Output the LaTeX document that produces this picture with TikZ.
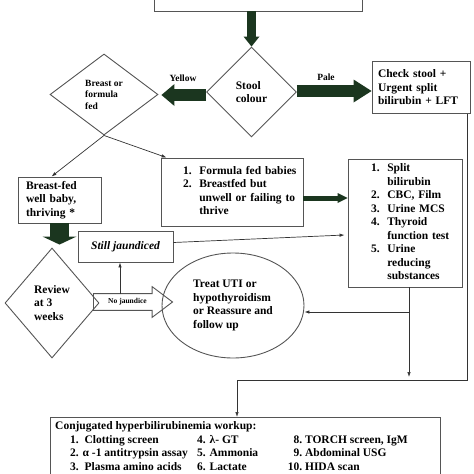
\documentclass[tikz,border=0pt]{standalone}
\usepackage{fontspec}
\setmainfont{Liberation Serif}
\usetikzlibrary{shapes.geometric,shapes.arrows,arrows.meta}
\definecolor{dkgreen}{RGB}{27,54,31}
\definecolor{edgegray}{RGB}{85,85,85}
\newcommand{\boxfont}{\bfseries\fontsize{11.5}{13.5}\selectfont}
\newcommand{\smallbold}{\bfseries\fontsize{9.5}{11.5}\selectfont}

\tikzset{
  box/.style={draw=edgegray, line width=0.9pt, fill=white, align=left,
              font=\boxfont, inner ysep=0pt},
  dia/.style={diamond, draw=edgegray, line width=0.9pt, inner sep=0pt,
              align=left, font=\boxfont},
  lbl/.style={font=\smallbold, inner sep=0pt},
  link/.style={draw=black!80, line width=0.7pt, -{Latex[length=5pt,width=3.5pt]}},
  bigarrow/.style n args={3}{draw=dkgreen, line width=#1,
              -{Triangle[length=#2,width=#3,line width=0pt]}},
}

\begin{document}
\begin{tikzpicture}[x=1pt,y=-1pt]
   \useasboundingbox (0,0) rectangle (474,474);

   % top row
   \node[box, minimum width=208pt, minimum height=40pt] (top) at (258,-9) {};
   \node[dia, minimum width=90pt, minimum height=90pt] (stool) at (251.5,92) {Stool\\colour};
   \node[dia, font=\smallbold, minimum width=108pt, minimum height=81pt] (bdia) at (104,94.5) {Breast or\\formula\\fed};
   \node[box, text width=86pt, inner xsep=6pt, minimum height=52pt] (check) at (421,87.5)
     {Check stool +\\Urgent split\\bilirubin + LFT};
   \node[lbl] (ylab) at (183,78) {Yellow};
   \node[lbl] (plab) at (326,77) {Pale};

   % middle
   \node[box, text width=67pt, inner xsep=8pt, minimum height=46pt] (bfed) at (59.5,200)
     {Breast-fed\\well baby,\\thriving *};
   \node[box, text width=98pt, inner xsep=22pt, minimum height=68pt] (formula) at (232,192)
     {\begin{tabular}{@{}r@{\ \ }l@{}}
      1.&Formula fed babies\\
      2.&Breastfed but\\
        &unwell or failing to\\
        &thrive
      \end{tabular}};
   \node[box, text width=68pt, inner xsep=23pt, minimum height=128pt] (tests) at (405,223)
     {\begin{tabular}{@{}r@{\ \ }l@{}}
      1.&Split\\
        &bilirubin\\
      2.&CBC, Film\\
      3.&Urine MCS\\
      4.&Thyroid\\
        &function test\\
      5.&Urine\\
        &reducing\\
        &substances
      \end{tabular}};
   \node[box, font=\boxfont\itshape, minimum width=95pt, minimum height=31pt] (still) at (125.5,246.5)
     {Still jaundiced};

   % review and outcome
   \node[single arrow, draw=edgegray, line width=0.9pt, fill=white,
         font=\bfseries\fontsize{7.5}{9}\selectfont, minimum height=79pt,
         inner xsep=2pt, inner ysep=4.5pt, single arrow head extend=7pt,
         single arrow tip angle=74] (nojaund) at (127.5,302) {No jaundice};
   \node[dia, minimum width=94pt, minimum height=110pt] (review) at (52,303)
     {Review\\at 3\\weeks};
   \node[ellipse, draw=edgegray, line width=0.9pt, align=left, font=\boxfont,
         minimum width=142pt, minimum height=105pt] (treat) at (233,305.5)
     {Treat UTI or\\hypothyroidism\\or Reassure and\\follow up};

   % workup
   \node[box, anchor=north, minimum width=390pt, minimum height=80pt] (workup) at (245,417) {};
   \node[anchor=north west, inner sep=0pt, align=left, font=\boxfont] (worktext) at (55,420)
     {\begin{tabular}{@{}l@{}}
      Conjugated hyperbilirubinemia workup:\\
      \hspace*{15pt}\makebox[127pt][l]{1.\ \ Clotting screen}\makebox[91pt][l]{4. λ- GT}\makebox[14pt][r]{8.} TORCH screen, IgM\\
      \hspace*{15pt}\makebox[127pt][l]{2. α -1 antitrypsin assay}\makebox[91pt][l]{5. Ammonia}\makebox[14pt][r]{9.} Abdominal USG\\
      \hspace*{15pt}\makebox[127pt][l]{3.\ \ Plasma amino acids}\makebox[91pt][l]{6. Lactate}\makebox[14pt][r]{10.} HIDA scan
      \end{tabular}};

   \coordinate (nj) at (120,294);
   \coordinate (br) at (409,312);
   \coordinate (jl) at (237,380);
   \coordinate (jr) at (467,380);

   % thick arrows
   \draw[bigarrow={9pt}{10pt}{16pt}] (top.south -| stool.north) -- (stool.north);
   \draw[bigarrow={12pt}{13pt}{22pt}] ([yshift=-3pt]stool.west) -- ([xshift=3pt,yshift=-3pt]stool.west -| bdia.east);
   \draw[bigarrow={12pt}{18pt}{23pt}] ([yshift=1pt]stool.east) -- ([yshift=1pt]stool.east -| check.west);
   \draw[bigarrow={5pt}{10pt}{10pt}] ([yshift=-6pt]formula.east) -- ([yshift=-6pt]formula.east -| tests.west);
   \draw[bigarrow={19pt}{8pt}{34pt}] (bfed.south) -- ([yshift=3pt]bfed.south |- review.north);

   % thin connectors
   \draw[link] (bdia.south) -- ([xshift=-8pt]bfed.north);
   \draw[link] (bdia.south) -- ([xshift=6pt]formula.north west);
   \draw[link] ([yshift=4pt]still.east) -- ([yshift=-12pt,xshift=-3pt]tests.west);
   \draw[link] (nj) -- (nj |- still.south);
   \draw[link] (tests.south -| br) -- ([yshift=3pt]br |- jl);
   \draw[link] (br) -- (br -| treat.east);
   \draw[link] (check.south -| jr) -- (jr) -- (jl) -- (jl |- workup.north);
\end{tikzpicture}
\end{document}
